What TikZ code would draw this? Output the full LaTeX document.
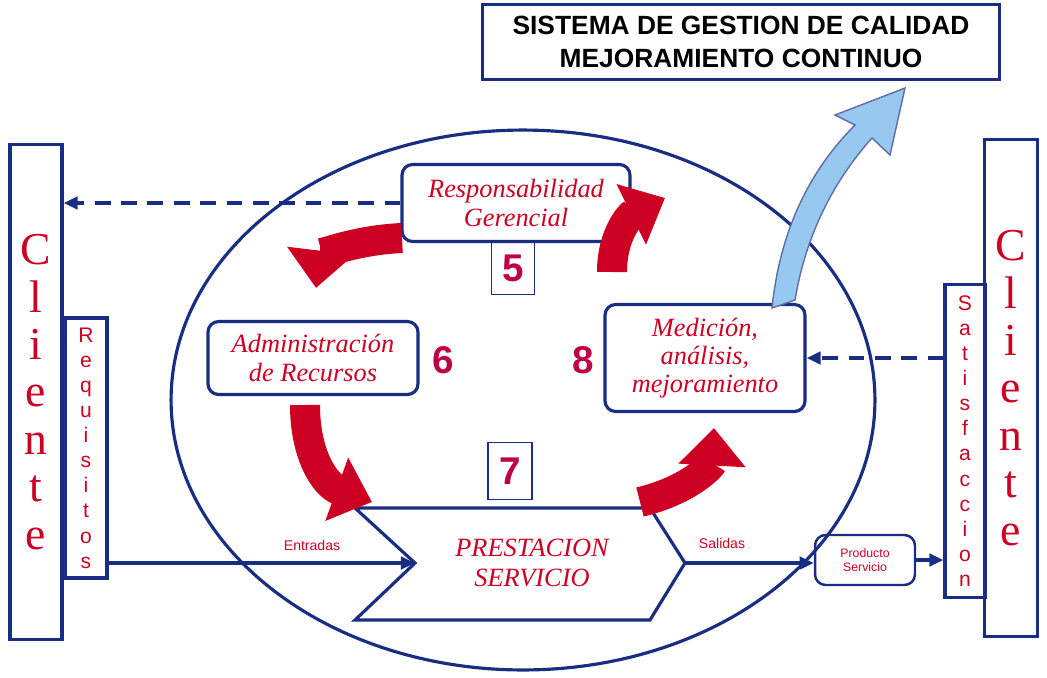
\documentclass[tikz,border=0pt]{standalone}
\usepackage{fontspec}
\setmainfont{Liberation Serif}
\setsansfont{Liberation Sans}
\usetikzlibrary{arrows.meta,shapes.geometric}
\definecolor{nv}{RGB}{25,45,130}
\definecolor{rd}{RGB}{205,0,35}
\definecolor{mg}{RGB}{190,0,70}
\definecolor{lb}{RGB}{150,200,240}
\tikzset{
  bx/.style={draw=nv,line width=1.8pt},
  rbx/.style={draw=nv,line width=1.8pt,rounded corners=6pt},
  lbl/.style={text=rd,font=\itshape\fontsize{15}{16}\selectfont,align=center},
  num/.style={text=mg,font=\sffamily\bfseries\fontsize{22}{22}\selectfont},
  rarr/.style={draw=rd,line width=0.6cm,-{Triangle[width=1.3cm,length=0.75cm]}},
  flow/.style={draw=nv,line width=2pt,-{Triangle[width=7pt,length=8pt]}},
  dflow/.style={draw=nv,line width=2.2pt,dash pattern=on 9pt off 6pt,-{Triangle[width=7pt,length=8pt]}},
}
\begin{document}
\begin{tikzpicture}[x=0.02cm,y=-0.02cm]
\useasboundingbox (0,0) rectangle (1047,677);
\node[ellipse,draw=nv,line width=1.8pt,minimum width=14.08cm,minimum height=10.8cm] (ell) at (523,400) {};
\node[bx,minimum width=10.34cm,minimum height=1.5cm,font=\sffamily\bfseries\fontsize{15}{19}\selectfont,align=center] (title) at (741,42) {SISTEMA DE GESTION DE CALIDAD\\MEJORAMIENTO CONTINUO};
\node[bx,minimum width=1.04cm,minimum height=9.9cm,text=rd,font=\fontsize{26}{27}\selectfont,align=center,inner sep=0pt] (cl1) at (36,392) {C\\l\\i\\e\\n\\t\\e};
\node[bx,minimum width=1.06cm,minimum height=9.94cm,text=rd,font=\fontsize{26}{27}\selectfont,align=center,inner sep=0pt] (cl2) at (1011,388) {C\\l\\i\\e\\n\\t\\e};
\node[bx,minimum width=0.84cm,minimum height=5.2cm,text=rd,font=\sffamily\fontsize{12}{14.3}\selectfont,align=center,inner sep=0pt] (req) at (86,448) {R\\e\\q\\u\\i\\s\\i\\t\\o\\s};
\node[bx,minimum width=0.8cm,minimum height=6.26cm,text=rd,font=\sffamily\fontsize{12}{14.3}\selectfont,align=center,inner sep=0pt] (sat) at (965,441) {S\\a\\t\\i\\s\\f\\a\\c\\c\\i\\o\\n};
\node[rbx,minimum width=4.56cm,minimum height=1.54cm,lbl] (resp) at (516,203) {Responsabilidad\\Gerencial};
\node[rbx,minimum width=4.2cm,minimum height=1.46cm,lbl] (adm) at (313,358) {Administración\\de Recursos};
\node[rbx,minimum width=4cm,minimum height=2.14cm,lbl] (med) at (705,358) {Medición,\\análisis,\\mejoramiento};
\node[bx,line width=0.8pt,minimum width=0.86cm,minimum height=1.06cm,num] (n5) at (513,268) {5};
\node[num] (n6) at (443,360) {6};
\node[num] (n8) at (583,360) {8};
\node[bx,line width=0.8pt,minimum width=0.88cm,minimum height=1.14cm,num] (n7) at (510,471) {7};
\draw[nv,line width=1.8pt] (355,508) -- (650,508) -- (685,563) -- (650,620) -- (355,620) -- (415,563) -- cycle;
\coordinate (chl) at (415,563);
\coordinate (chr) at (685,563);
\node[lbl,font=\itshape\fontsize{15}{17}\selectfont] (pres) at (532,563) {PRESTACION\\SERVICIO};
\draw[flow] (req.east|-chl) -- (chl);
\node[text=rd,font=\sffamily\fontsize{8}{8}\selectfont] (ent) at (312,545) {Entradas};
\node[rbx,line width=1.4pt,minimum width=2cm,minimum height=1cm,text=rd,font=\sffamily\fontsize{7}{8}\selectfont,align=center] (prod) at (865,560) {Producto\\Servicio};
\draw[flow] (chr) -- (prod.west|-chr);
\node[text=rd,font=\sffamily\fontsize{8}{8}\selectfont] (sal) at (722,543) {Salidas};
\draw[flow] (prod.east) -- (sat.west|-prod.east);
\draw[dflow] (resp.west) -- (cl1.east|-resp.west);
\draw[dflow] (sat.west|-med.east) -- (med.east);
% red cycle arrows
\draw[rarr] (402,238) .. controls (355,240) and (320,255) .. (316,288);
\draw[rarr] (305,405) .. controls (305,455) and (325,485) .. (372,502);
\draw[rarr] (640,502) .. controls (690,490) and (712,465) .. (714,428);
\draw[rarr] (612,272) .. controls (612,235) and (630,215) .. (665,198);
% blue arrow
\draw[draw=nv!70,fill=lb,line width=0.8pt] (772,308) .. controls (780,230) and (810,170) .. (855,125)
  -- (835,115) -- (905,88) -- (890,155) -- (872,138)
  .. controls (830,185) and (805,240) .. (795,300) -- cycle;
\end{tikzpicture}
\end{document}
